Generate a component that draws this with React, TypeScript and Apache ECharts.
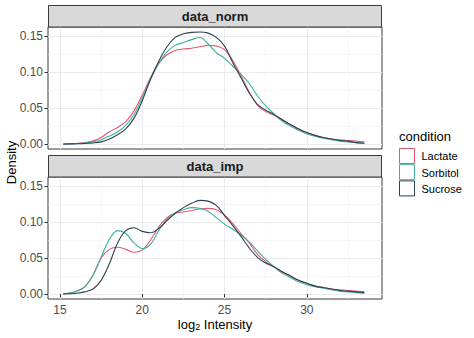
import React, { useEffect, useRef } from "react";
import * as echarts from "echarts";

const xs = [15.2, 15.5, 16, 16.5, 17, 17.5, 18, 18.5, 19, 19.5, 20, 20.5, 21, 21.5, 22, 22.5, 23, 23.5, 24, 24.5, 25, 25.5, 26, 26.5, 27, 27.5, 28, 28.5, 29, 29.5, 30, 30.5, 31, 31.5, 32, 32.5, 33, 33.5];

const conditions = ["Lactate", "Sorbitol", "Sucrose"];
const panels = ["data_norm", "data_imp"];

const normLactate = [0, 0.0003, 0.0008, 0.002, 0.004, 0.009, 0.017, 0.023, 0.031, 0.046, 0.068, 0.092, 0.112, 0.124, 0.130, 0.132, 0.133, 0.135, 0.137, 0.136, 0.131, 0.116, 0.095, 0.072, 0.054, 0.045, 0.040, 0.033, 0.027, 0.021, 0.016, 0.012, 0.009, 0.007, 0.006, 0.005, 0.004, 0.003];
const normSorbitol = [0, 0.0002, 0.0006, 0.0015, 0.003, 0.006, 0.011, 0.017, 0.026, 0.041, 0.064, 0.090, 0.112, 0.128, 0.137, 0.141, 0.145, 0.148, 0.139, 0.127, 0.119, 0.108, 0.097, 0.084, 0.067, 0.053, 0.042, 0.032, 0.025, 0.019, 0.014, 0.011, 0.008, 0.006, 0.004, 0.003, 0.002, 0.001];
const normSucrose = [0, 0.0001, 0.0003, 0.0007, 0.0015, 0.003, 0.007, 0.013, 0.021, 0.036, 0.060, 0.090, 0.115, 0.135, 0.148, 0.153, 0.155, 0.1555, 0.154, 0.148, 0.136, 0.113, 0.092, 0.071, 0.055, 0.047, 0.041, 0.034, 0.027, 0.021, 0.016, 0.012, 0.009, 0.007, 0.005, 0.004, 0.002, 0.001];

const impLactate = [0, 0.001, 0.004, 0.010, 0.026, 0.050, 0.062, 0.065, 0.062, 0.058, 0.061, 0.075, 0.093, 0.106, 0.112, 0.114, 0.116, 0.118, 0.119, 0.117, 0.110, 0.098, 0.084, 0.071, 0.055, 0.045, 0.038, 0.031, 0.025, 0.019, 0.015, 0.011, 0.009, 0.007, 0.006, 0.005, 0.004, 0.003];
const impSorbitol = [0, 0.001, 0.004, 0.010, 0.026, 0.051, 0.076, 0.088, 0.084, 0.071, 0.063, 0.069, 0.088, 0.104, 0.113, 0.117, 0.120, 0.119, 0.115, 0.106, 0.097, 0.090, 0.082, 0.072, 0.060, 0.048, 0.038, 0.029, 0.023, 0.017, 0.013, 0.010, 0.008, 0.006, 0.004, 0.003, 0.002, 0.001];
const impSucrose = [0, 0.0003, 0.001, 0.003, 0.007, 0.019, 0.042, 0.071, 0.088, 0.092, 0.087, 0.085, 0.091, 0.102, 0.112, 0.120, 0.126, 0.130, 0.129, 0.123, 0.109, 0.095, 0.080, 0.064, 0.051, 0.043, 0.038, 0.031, 0.025, 0.019, 0.015, 0.011, 0.009, 0.007, 0.005, 0.004, 0.003, 0.002];

const panelValues = [
  [normLactate, normSorbitol, normSucrose],
  [impLactate, impSorbitol, impSucrose],
];

const xMajor = [15, 20, 25, 30];
const xMinor = [17.5, 22.5, 27.5, 32.5];
const yMajor = [0, 0.05, 0.1, 0.15];
const yMinor = [0.025, 0.075, 0.125];

const colors = ["#E8566E", "#3DAF9C", "#2E4053"];

const FONT = "Liberation Sans, Arial, Helvetica, sans-serif";
const X_MIN = 14.27;
const X_MAX = 34.57;
const Y_MIN = -0.0069;
const Y_MAX = 0.1625;

export default function App() {
  const ref = useRef<HTMLDivElement>(null);

  useEffect(() => {
    if (!ref.current) return;
    const chart = echarts.init(ref.current, null, { renderer: "svg" });

    const gridTops = [27, 177];
    const grids = gridTops.map((top) => ({
      left: 48,
      top,
      width: 334,
      height: 122,
      show: true,
      backgroundColor: "#ffffff",
      borderColor: "#3a3a3a",
      borderWidth: 1,
      containLabel: false,
    }));

    const xAxes: any[] = [];
    const yAxes: any[] = [];
    panels.forEach((_, gi) => {
      const isBottom = gi === panels.length - 1;
      xAxes.push({
        type: "value",
        gridIndex: gi,
        min: X_MIN,
        max: X_MAX,
        position: "bottom",
        axisLine: { show: false },
        axisTick: {
          show: isBottom,
          customValues: xMajor,
          length: 3.5,
          lineStyle: { color: "#333333", width: 1 },
        },
        axisLabel: {
          show: isBottom,
          customValues: xMajor,
          margin: 5,
          lineHeight: 12,
          color: "#4D4D4D",
          fontSize: 12,
          fontFamily: FONT,
          formatter: (v: number) => String(v),
        },
        splitLine: { show: true, lineStyle: { color: "#EBEBEB", width: 1 } },
      });
      xAxes.push({
        type: "value",
        gridIndex: gi,
        min: X_MIN,
        max: X_MAX,
        position: "top",
        axisLine: { show: false },
        axisTick: { show: false, customValues: xMinor },
        axisLabel: { show: false, customValues: xMinor },
        splitLine: { show: true, lineStyle: { color: "#F2F2F2", width: 0.6 } },
      });
      yAxes.push({
        type: "value",
        gridIndex: gi,
        min: Y_MIN,
        max: Y_MAX,
        position: "left",
        axisLine: { show: false },
        axisTick: {
          show: true,
          customValues: yMajor,
          length: 3.5,
          lineStyle: { color: "#333333", width: 1 },
        },
        axisLabel: {
          show: true,
          customValues: yMajor,
          margin: 5,
          color: "#4D4D4D",
          fontSize: 12,
          fontFamily: FONT,
          formatter: (v: number) => v.toFixed(2),
        },
        splitLine: { show: true, lineStyle: { color: "#EBEBEB", width: 1 } },
      });
      yAxes.push({
        type: "value",
        gridIndex: gi,
        min: Y_MIN,
        max: Y_MAX,
        position: "right",
        axisLine: { show: false },
        axisTick: { show: false, customValues: yMinor },
        axisLabel: { show: false, customValues: yMinor },
        splitLine: { show: true, lineStyle: { color: "#F2F2F2", width: 0.6 } },
      });
    });

    const series: any[] = [];
    panels.forEach((_, gi) => {
      conditions.forEach((name, ci) => {
        series.push({
          type: "line",
          name,
          xAxisIndex: gi * 2,
          yAxisIndex: gi * 2,
          data: xs.map((x, i) => [x, panelValues[gi][ci][i]]),
          smooth: 0.35,
          showSymbol: false,
          symbol: "none",
          clip: true,
          lineStyle: { color: colors[ci], width: 1.1 },
          itemStyle: { color: colors[ci] },
          z: 3 + ci,
        });
      });
    });

    const graphics: any[] = [];
    const stripTops = [5.5, 155.5];
    panels.forEach((p, gi) => {
      graphics.push({
        type: "rect",
        shape: { x: 48.5, y: stripTops[gi], width: 333, height: 21.5 },
        style: { fill: "#D9D9D9", stroke: "#3a3a3a", lineWidth: 1 },
        z: 10,
      });
      graphics.push({
        type: "text",
        x: 215,
        y: stripTops[gi] + 11,
        style: {
          text: p,
          font: `bold 13px ${FONT}`,
          fill: "#1A1A1A",
          textAlign: "center",
          textVerticalAlign: "middle",
        },
        z: 11,
      });
    });

    // axis titles
    graphics.push({
      type: "text",
      x: 11,
      y: 162.5,
      rotation: Math.PI / 2,
      style: {
        text: "Density",
        font: `13px ${FONT}`,
        fill: "#000000",
        textAlign: "center",
        textVerticalAlign: "middle",
      },
    });
    graphics.push({
      type: "text",
      x: 215,
      y: 324,
      style: {
        text: "{a|log}{s|2}{a| Intensity}",
        textAlign: "center",
        textVerticalAlign: "middle",
        rich: {
          a: { fontSize: 13, fontFamily: FONT, fill: "#000000", lineHeight: 14, verticalAlign: "middle" },
          s: { fontSize: 9, fontFamily: FONT, fill: "#000000", lineHeight: 6, verticalAlign: "bottom" },
        },
      },
    });

    // legend
    graphics.push({
      type: "text",
      x: 399,
      y: 136,
      style: {
        text: "condition",
        font: `13px ${FONT}`,
        fill: "#000000",
        textAlign: "left",
        textVerticalAlign: "middle",
      },
    });
    conditions.forEach((name, ci) => {
      const top = 148.5 + ci * 16.2;
      graphics.push({
        type: "rect",
        shape: { x: 399.5, y: top, width: 15, height: 15 },
        style: { fill: "#ffffff", stroke: colors[ci], lineWidth: 1 },
      });
      graphics.push({
        type: "text",
        x: 421.5,
        y: top + 7.8,
        style: {
          text: name,
          font: `11px ${FONT}`,
          fill: "#000000",
          textAlign: "left",
          textVerticalAlign: "middle",
        },
      });
    });

    chart.setOption({
      animation: false,
      backgroundColor: "#ffffff",
      grid: grids,
      xAxis: xAxes,
      yAxis: yAxes,
      series,
      graphic: { elements: graphics },
    });

    return () => chart.dispose();
  }, []);

  return (
    <div
      ref={ref}
      style={{ position: "fixed", left: 0, top: 0, width: 474, height: 338 }}
    />
  );
}
